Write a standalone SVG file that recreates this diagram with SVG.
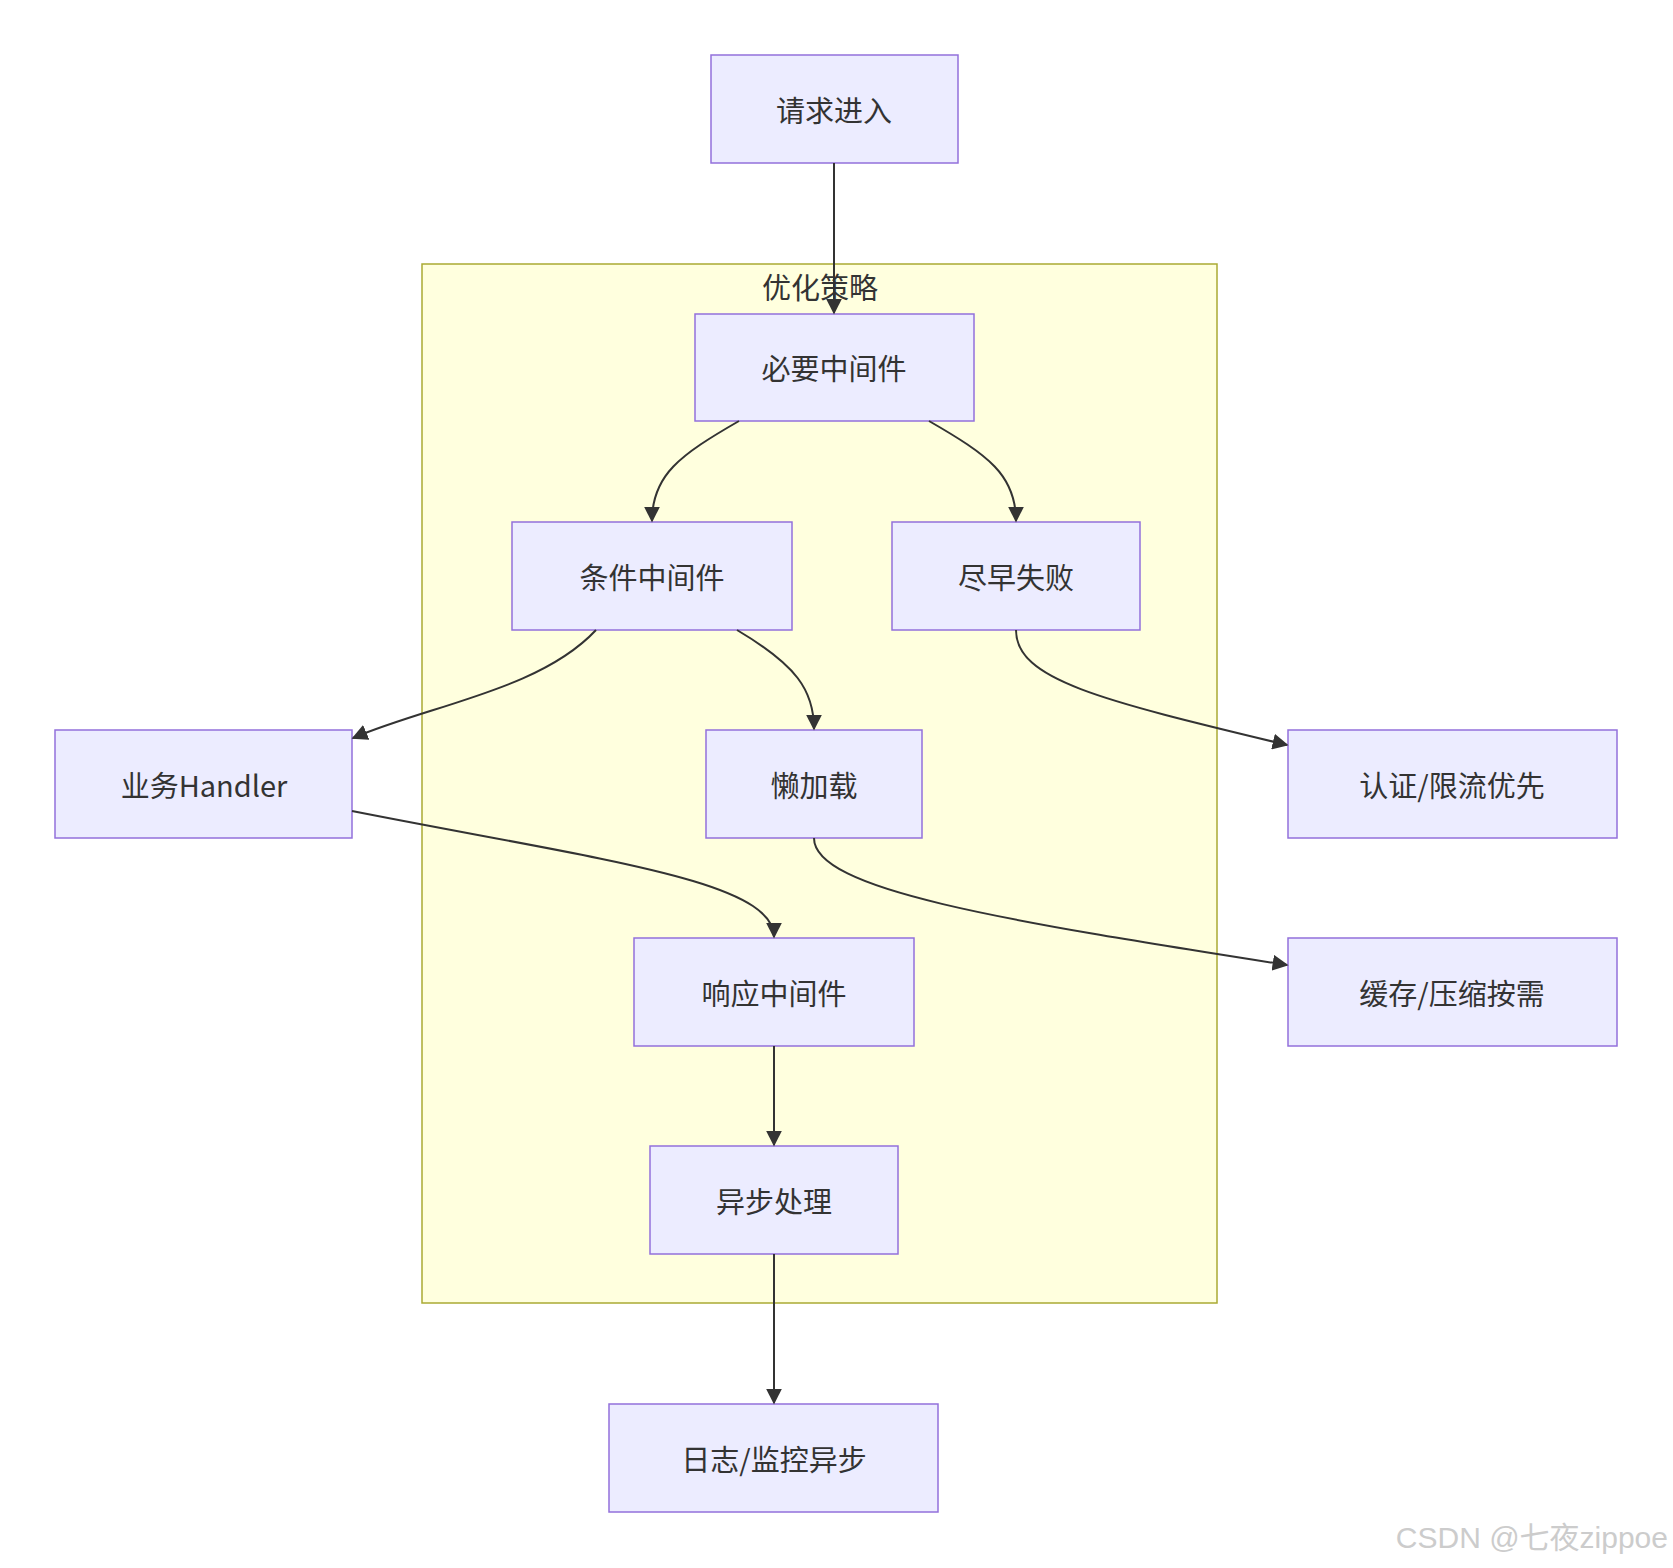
<svg xmlns="http://www.w3.org/2000/svg" width="1673" height="1568" viewBox="0 0 1673 1568">
<style>
.n rect{fill:#ececff;stroke:#9370db;stroke-width:1.5}
.n text,.cl{font-family:"Noto Sans CJK SC","Noto Sans",sans-serif;font-size:29px;fill:#333;text-anchor:middle;dominant-baseline:central}
.e path{fill:none;stroke:#333;stroke-width:2}
</style>
<defs><marker id="a" viewBox="0 0 10 10" refX="9" refY="5" markerWidth="8" markerHeight="8" orient="auto"><path d="M0,0L10,5L0,10z" fill="#333"/></marker></defs>
<rect width="1673" height="1568" fill="#fff"/>
<g id="cluster"><rect x="422" y="264" width="795" height="1039" fill="#ffffde" stroke="#aaaa33" stroke-width="1.5"/><text class="cl" x="820" y="286">优化策略</text></g>
<g id="n1" class="n"><rect x="711" y="55" width="247" height="108"/><text x="834" y="109">请求进入</text></g>
<g id="n2" class="n"><rect x="695" y="314" width="279" height="107"/><text x="834" y="367">必要中间件</text></g>
<g id="n3" class="n"><rect x="512" y="522" width="280" height="108"/><text x="652" y="576">条件中间件</text></g>
<g id="n4" class="n"><rect x="892" y="522" width="248" height="108"/><text x="1016" y="576">尽早失败</text></g>
<g id="n5" class="n"><rect x="55" y="730" width="297" height="108"/><text x="204" y="784">业务Handler</text></g>
<g id="n6" class="n"><rect x="706" y="730" width="216" height="108"/><text x="814" y="784">懒加载</text></g>
<g id="n7" class="n"><rect x="1288" y="730" width="329" height="108"/><text x="1452" y="784">认证/限流优先</text></g>
<g id="n8" class="n"><rect x="634" y="938" width="280" height="108"/><text x="774" y="992">响应中间件</text></g>
<g id="n9" class="n"><rect x="1288" y="938" width="329" height="108"/><text x="1452" y="992">缓存/压缩按需</text></g>
<g id="n10" class="n"><rect x="650" y="1146" width="248" height="108"/><text x="774" y="1200">异步处理</text></g>
<g id="n11" class="n"><rect x="609" y="1404" width="329" height="108"/><text x="774" y="1458">日志/监控异步</text></g>
<g class="e" marker-end="url(#a)">
<path d="M834,163L834,313" marker-end="url(#a)"/>
<path d="M739,421C680,455 652,475 652,521" marker-end="url(#a)"/>
<path d="M929,421C988,455 1016,475 1016,521" marker-end="url(#a)"/>
<path d="M596,630C540,690 430,705 353,738" marker-end="url(#a)"/>
<path d="M737,630C796,665 814,690 814,729" marker-end="url(#a)"/>
<path d="M1016,630C1016,680 1100,700 1287,745" marker-end="url(#a)"/>
<path d="M352,811C600,860 774,880 774,937" marker-end="url(#a)"/>
<path d="M814,838C814,890 1000,920 1287,965" marker-end="url(#a)"/>
<path d="M774,1046L774,1145" marker-end="url(#a)"/>
<path d="M774,1254L774,1403" marker-end="url(#a)"/>
</g>
<text x="1668" y="1548" text-anchor="end" font-family="Liberation Sans,Noto Sans CJK SC,sans-serif" font-size="30" fill="#ccc">CSDN @七夜zippoe</text>
</svg>
